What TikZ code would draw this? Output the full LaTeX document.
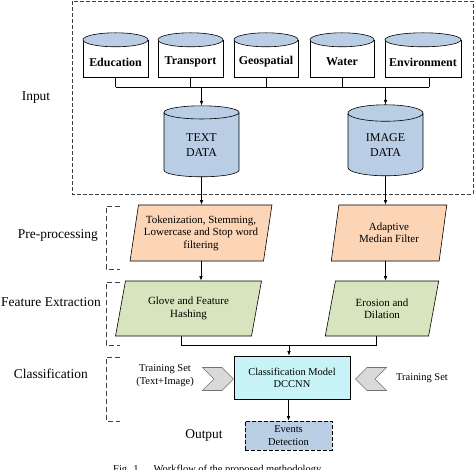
\documentclass[tikz,border=0pt]{standalone}
\usepackage{fontspec}
\setmainfont{Liberation Serif}
\usetikzlibrary{shapes.geometric, shapes.symbols, arrows.meta, positioning, calc}

\definecolor{cylblue}{HTML}{B9CDE5}
\definecolor{peach}{HTML}{FBD5B5}
\definecolor{leafgreen}{HTML}{D7E4BD}
\definecolor{paleaqua}{HTML}{C9F4F7}
\definecolor{chevgray}{HTML}{D9D9D9}

\tikzset{
  line/.style={draw=black, line width=0.6bp},
  arrow/.style={line, -{Latex[length=4.5bp,width=3.5bp]}},
  srcbody/.style={minimum height=30bp, inner sep=1bp, font=\bfseries\fontsize{12}{14}\selectfont},
  srctop/.style={ellipse, draw, line width=0.6bp, fill=cylblue, minimum height=14bp, inner sep=0pt},
  datacyl/.style={cylinder, shape border rotate=90, aspect=0.4, draw, line width=0.6bp,
    fill=cylblue, minimum width=75bp, minimum height=71bp, inner sep=1bp, align=center,
    font=\fontsize{12}{15}\selectfont},
  paral/.style={trapezium, trapezium stretches=true, draw, line width=0.6bp, align=center,
    inner sep=1bp, font=\fontsize{11}{12.5}\selectfont},
  prepbox/.style={paral, fill=peach, minimum height=56bp,
    trapezium left angle=78, trapezium right angle=102},
  featbox/.style={paral, fill=leafgreen, minimum height=55bp,
    trapezium left angle=75, trapezium right angle=105},
  classbox/.style={rectangle, draw, line width=0.6bp, fill=paleaqua, minimum width=116bp,
    minimum height=43bp, align=center, font=\fontsize{10.5}{12}\selectfont},
  chevron/.style={signal, draw=black!55, line width=0.6bp, fill=chevgray, minimum width=31bp,
    minimum height=23bp, inner sep=0pt},
  outbox/.style={rectangle, draw, dash pattern=on 4bp off 2bp, line width=0.6bp, fill=cylblue,
    minimum width=87bp, minimum height=29bp, align=center, font=\fontsize{10.5}{12.5}\selectfont},
  stage/.style={font=\fontsize{13.5}{15}\selectfont, inner sep=0pt},
  small/.style={font=\fontsize{10.5}{12.5}\selectfont, align=center, inner sep=0pt},
  inbox/.style={draw=black!75, line width=0.6bp, dash pattern=on 4bp off 2bp},
  bracket/.style={draw=black!75, line width=0.7bp, dash pattern=on 5bp off 3bp}
}

\begin{document}
\begin{tikzpicture}[x=1bp, y=-1bp]
\useasboundingbox (0,0) rectangle (474,470);
% Input frame
\draw[inbox] (72,1) rectangle (473,194);
% Data sources
\foreach \cx/\w/\dx/\nm/\txt in {115.5/65/0/edu/Education, 190.5/65/0/trn/Transport,
    266/64/0/geo/Geospatial, 342/64/0/wat/Water, 423/76/6/env/Environment} {
  \node[srcbody, minimum width=\w bp] (\nm) at (\cx,62) {\txt};
  \draw[line] ([yshift=7bp]\nm.north west) -- (\nm.south west) -- (\nm.south east) -- ([yshift=7bp]\nm.north east);
  \node[srctop, minimum width=\w bp] (\nm top) at ([yshift=7bp]\nm.north) {};
  \draw[line] ([xshift=\dx bp]\nm.south) -- ++(0,10);
}
\coordinate (busl) at (115.5,87);
\coordinate (busr) at (429,87);
\draw[line] (busl) -- (busr);
% Data stores
\node[datacyl] (txtdata) at (201.5,145.5) {TEXT\\DATA};
\node[datacyl] (imgdata) at (385.5,145.5) {IMAGE\\DATA};
\draw[arrow] (txtdata.north |- busl) -- (txtdata.north);
\draw[arrow] (imgdata.north |- busl) -- (imgdata.north);
% Pre-processing
\node[prepbox, minimum width=142bp] (tok) at (201,233) {Tokenization, Stemming,\\Lowercase and Stop word\\filtering};
\node[prepbox, minimum width=116bp] (amf) at (389,233) {Adaptive\\Median Filter};
\draw[arrow] (txtdata.south) -- (txtdata.south |- tok.north);
\draw[arrow] (imgdata.south) -- (imgdata.south |- amf.north);
% Feature extraction
\node[featbox, minimum width=147bp] (glove) at (188.5,308.5) {Glove and Feature\\Hashing};
\node[featbox, minimum width=114bp] (eros) at (382,308.5) {Erosion and\\Dilation};
\draw[arrow] (tok.south) -- (tok.south |- glove.north);
\draw[arrow] (amf.south -| imgdata.south) -- (imgdata.south |- eros.north);
% Classification
\node[classbox] (cls) at (292,377.5) {Classification Model\\DCCNN};
\coordinate (merge) at (289,345);
\draw[line] ([xshift=-7.5bp]glove.south) |- (merge);
\draw[line] ([xshift=-6bp]eros.south) |- (merge);
\draw[arrow] (merge) -- (merge |- cls.north);
\node[chevron, signal to=east, signal from=west] (chl) at (218,379) {};
\node[chevron, signal to=west, signal from=east] (chr) at (371,379) {};
\node[small] (trainl) at (165,375.5) {Training Set\\(Text+Image)};
\node[small] (trainr) at (422,378) {Training Set};
% Output
\node[outbox] (events) at (288.5,435.5) {Events\\Detection};
\draw[arrow] (cls.south -| events.north) -- (events.north);
% Stage labels
\node[stage] (lin) at (36,98) {Input};
\node[stage, anchor=east] (lpre) at (98,235) {Pre-processing};
\node[stage, anchor=east] (lfeat) at (101,302) {Feature Extraction};
\node[stage, anchor=east] (lcls) at (88,374) {Classification};
\node[stage] (lout) at (204,435) {Output};
% Brackets
\draw[bracket] (120,206) -- (106,206) -- (106,269) -- (120,269);
\draw[bracket] (120,282) -- (106,282) -- (106,345) -- (120,345);
\draw[bracket] (120,357) -- (106,357) -- (106,421) -- (120,421);
% Caption
\node[small, anchor=base west] (cap) at (113,472.5) {Fig. 1.\hspace{1.2em}Workflow of the proposed methodology};
\end{tikzpicture}
\end{document}
